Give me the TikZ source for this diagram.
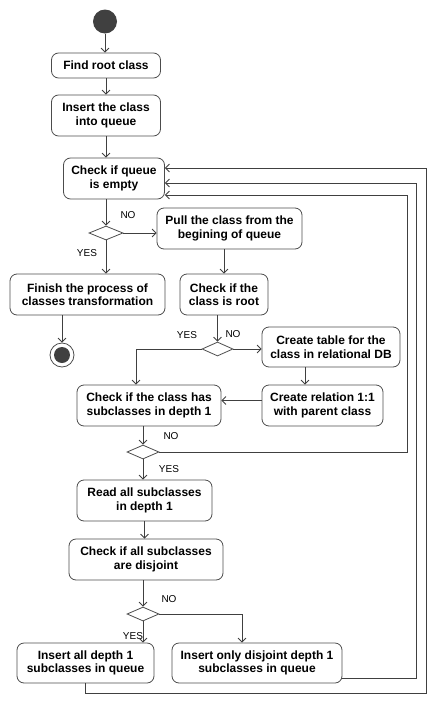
\documentclass[tikz,border=0pt]{standalone}
\usepackage{fontspec}
\setmainfont{Liberation Sans}
\usetikzlibrary{arrows.meta,shapes.geometric}

\begin{document}
\begin{tikzpicture}[x=1pt,y=-1pt]
\tikzset{
  actnode/.style={rectangle,rounded corners=7pt,draw=black!70,line width=0.8pt,inner sep=0pt,align=center,font=\fontsize{12}{13.5}\selectfont\bfseries},
  decnode/.style={diamond,draw=black!70,line width=0.8pt,inner sep=0pt,minimum width=32pt,minimum height=14pt},
  guard/.style={inner sep=0pt,font=\fontsize{10}{12}\selectfont},
  flow/.style={draw=black!75,line width=0.8pt,-{Straight Barb[length=4pt,width=8pt]}}
}
\useasboundingbox (0,0) rectangle (436,704);
% start and end
\node[circle,fill=black!75,minimum size=24pt,inner sep=0pt] (n_start) at (105,21.5) {};
\node[circle,draw=black!70,line width=0.8pt,minimum size=24pt,inner sep=0pt,
  path picture={\fill[black!75] (path picture bounding box.center) circle (8pt);}] (n_end) at (62,355) {};
% actions
\node[actnode,minimum width=109pt,minimum height=25pt] (n_root) at (106,65.5) {Find root class};
\node[actnode,minimum width=109pt,minimum height=41pt] (n_insq) at (106,115.5) {Insert the class\\into queue};
\node[actnode,minimum width=101pt,minimum height=41pt] (n_queue) at (114,178.5) {Check if queue\\is empty};
\node[actnode,minimum width=145pt,minimum height=41pt] (n_pull) at (229.5,228.5) {Pull the class from the\\begining of queue};
\node[actnode,minimum width=155pt,minimum height=41pt] (n_finish) at (87.5,294.5) {Finish the process of\\classes transformation};
\node[actnode,minimum width=88pt,minimum height=41pt] (n_isroot) at (224,294.5) {Check if the\\class is root};
\node[actnode,minimum width=138pt,minimum height=40pt] (n_table) at (331,347) {Create table for the\\class in relational DB};
\node[actnode,minimum width=121pt,minimum height=41pt] (n_rel) at (322.5,405.5) {Create relation 1:1\\with parent class};
\node[actnode,minimum width=144pt,minimum height=41pt] (n_hassub) at (149,405.5) {Check if the class has\\subclasses in depth 1};
\node[actnode,minimum width=135pt,minimum height=41pt] (n_read) at (144.5,500.5) {Read all subclasses\\in depth 1};
\node[actnode,minimum width=154pt,minimum height=41pt] (n_disj) at (146,559.5) {Check if all subclasses\\are disjoint};
\node[actnode,minimum width=137pt,minimum height=40pt] (n_insall) at (85.5,663) {Insert all depth 1\\subclasses in queue};
\node[actnode,minimum width=170pt,minimum height=40pt] (n_insonly) at (257,663) {Insert only disjoint depth 1\\subclasses in queue};
% decisions
\node[decnode,minimum width=34pt] (n_dec1) at (106,233) {};
\node[decnode,minimum width=31pt] (n_dec2) at (217.5,349) {};
\node[decnode] (n_dec3) at (143,452) {};
\node[decnode] (n_dec4) at (143,614) {};
% guards
\node[guard] (l_no1) at (128,215) {NO};
\node[guard] (l_yes1) at (87,253) {YES};
\node[guard] (l_yes2) at (187,335) {YES};
\node[guard] (l_no2) at (233,334) {NO};
\node[guard] (l_no3) at (171,436) {NO};
\node[guard] (l_yes3) at (169,469) {YES};
\node[guard] (l_no4) at (169,599) {NO};
\node[guard] (l_yes4) at (133,636) {YES};
% bend points
\coordinate (c_yes2) at (136,349);
\coordinate (c_tab) at (305,347);
\coordinate (c_no4) at (242,614);
\coordinate (c_in_b) at (407,452);
\coordinate (c_in_t) at (407,195);
\coordinate (c_mid_b) at (416,678);
\coordinate (c_mid_t) at (416,183);
\coordinate (c_out_b) at (426,693);
\coordinate (c_out_t) at (426,168);
% flows
\draw[flow] (n_start.south) -- (n_start.south |- n_root.north);
\draw[flow] (n_root.south) -- (n_insq.north);
\draw[flow] (n_insq.south) -- (n_insq.south |- n_queue.north);
\draw[flow] (n_queue.south -| n_dec1) -- (n_dec1.north);
\draw[flow] (n_dec1.east) -- (n_dec1.east -| n_pull.west);
\draw[flow] (n_dec1.south) -- (n_dec1.south |- n_finish.north);
\draw[flow] (n_finish.south -| n_end) -- (n_end.north);
\draw[flow] (n_pull.south -| n_isroot) -- (n_isroot.north);
\draw[flow] (n_isroot.south -| n_dec2) -- (n_dec2.north);
\draw[flow] (n_dec2.west) -| (c_yes2 |- n_hassub.north);
\draw[flow] (n_dec2.east) -- (n_dec2.east -| n_table.west);
\draw[flow] (n_table.south -| c_tab) -- (c_tab |- n_rel.north);
\draw[flow] ([yshift=5pt]n_rel.west) -- ([yshift=5pt]n_hassub.east);
\draw[flow] (n_hassub.south -| n_dec3) -- (n_dec3.north);
\draw[flow] (n_dec3.south) -- (n_dec3.south |- n_read.north);
\draw[flow] (n_read.south) -- (n_read.south |- n_disj.north);
\draw[flow] (n_disj.south -| n_dec4) -- (n_dec4.north);
\draw[flow] (n_dec4.south) -- (n_dec4.south |- n_insall.north);
\draw[flow] (n_dec4.east) -| (c_no4 |- n_insonly.north);
% loops back to the queue check
\draw[flow] (n_dec3.east) -- (c_in_b) -- (c_in_t) -- (n_queue.east |- c_in_t);
\draw[flow] ([yshift=-15pt]n_insonly.east) -- (c_mid_b) -- (c_mid_t) -- (n_queue.east |- c_mid_t);
\draw[flow] (n_insall.south) |- (c_out_b) -- (c_out_t) -- (n_queue.east |- c_out_t);
\end{tikzpicture}
\end{document}
